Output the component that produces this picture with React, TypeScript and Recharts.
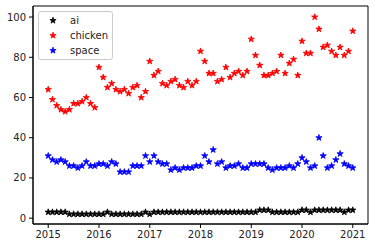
import React from "react";
import { ScatterChart, Scatter, XAxis, YAxis, Legend, ReferenceArea } from "recharts";

// monthly values, Jan 2015 .. Jan 2021
const startYear = 2015;

const ai = [
  3, 3, 3, 3, 3, 2, 2, 2, 2, 2, 2, 2,
  2, 2, 3, 2, 2, 2, 2, 2, 2, 2, 2, 3,
  2, 3, 3, 3, 3, 3, 3, 3, 3, 3, 3, 3,
  3, 3, 3, 3, 3, 3, 3, 3, 3, 3, 3, 3,
  3, 3, 4, 4, 4, 3, 3, 3, 3, 3, 3, 3,
  4, 4, 3, 4, 4, 4, 4, 4, 4, 4, 3, 4,
  4,
];

const chicken = [
  64, 59, 56, 54, 53, 54, 57, 57, 58, 60, 57, 55,
  75, 70, 65, 67, 64, 63, 64, 62, 65, 66, 60, 63,
  78, 71, 73, 67, 66, 68, 69, 66, 65, 68, 66, 68,
  83, 78, 72, 72, 68, 69, 75, 70, 72, 73, 71, 73,
  89, 81, 76, 71, 71, 72, 73, 81, 72, 77, 79, 71,
  88, 82, 82, 100, 94, 85, 86, 83, 81, 85, 81, 83,
  93,
];

const space = [
  31, 29, 28, 29, 28, 26, 26, 25, 26, 28, 26, 26,
  27, 27, 26, 28, 27, 23, 23, 23, 26, 26, 26, 31,
  28, 31, 28, 27, 27, 24, 25, 24, 25, 25, 25, 26,
  26, 31, 28, 34, 27, 28, 25, 26, 26, 27, 25, 25,
  27, 27, 27, 27, 25, 24, 25, 25, 25, 26, 25, 27,
  30, 28, 25, 26, 40, 31, 25, 26, 29, 32, 27, 26,
  25,
];

const yearTicks = [2015, 2016, 2017, 2018, 2019, 2020, 2021];
const valueTicks = [0, 20, 40, 60, 80, 100];

const series = [
  { name: "ai", color: "#000000", values: ai },
  { name: "chicken", color: "#ff0000", values: chicken },
  { name: "space", color: "#0000ff", values: space },
];

const toPoints = (values: number[]) =>
  values.map((v, i) => ({ x: startYear + i / 12, y: v }));

const xDomain = [2014.7, 2021.3];
const yDomain = [-2.9, 105.5];

const font = "'DejaVu Sans', sans-serif";
const tickStyle = { fontSize: 10, fill: "#222", fontFamily: font };

function starPath(cx: number, cy: number, r: number) {
  let d = "";
  for (let k = 0; k < 10; k++) {
    const a = ((-90 + k * 36) * Math.PI) / 180;
    const rr = k % 2 === 0 ? r : r * 0.382;
    d += (k === 0 ? "M" : "L") + (cx + rr * Math.cos(a)).toFixed(2) + "," + (cy + rr * Math.sin(a)).toFixed(2);
  }
  return d + "Z";
}

function StarMark(props: any) {
  const { cx, cy, fill } = props;
  if (cx == null || cy == null) return null;
  return <path d={starPath(cx, cy, 3.3)} fill={fill} stroke={fill} strokeWidth={0.8} />;
}

function LegendBox() {
  return (
    <div
      style={{
        position: "relative",
        width: 75,
        height: 49,
        boxSizing: "border-box",
        border: "1px solid #cccccc",
        borderRadius: 3,
        background: "rgba(255,255,255,0.8)",
        fontFamily: font,
        fontSize: 10,
        color: "#222",
        textAlign: "left",
      }}
    >
      {series.map((s, i) => (
        <div key={s.name} style={{ position: "absolute", left: 0, top: 1 + i * 15, height: 15, width: 73 }}>
          <svg width={12} height={15} style={{ position: "absolute", left: 8, top: 0 }}>
            <path d={starPath(6, 7.5, 3.3)} fill={s.color} stroke={s.color} strokeWidth={0.8} />
          </svg>
          <span style={{ position: "absolute", left: 31, top: 1, lineHeight: "13px" }}>{s.name}</span>
        </div>
      ))}
    </div>
  );
}

export default function App() {
  return (
    <div style={{ position: "absolute", left: 0, top: 0, width: 375, height: 248, background: "#fff" }}>
      <ScatterChart width={375} height={248} margin={{ top: 6, right: 7, bottom: 0, left: 0 }}>
        <XAxis
          type="number"
          dataKey="x"
          domain={xDomain}
          ticks={yearTicks}
          interval={0}
          allowDataOverflow
          height={24}
          tickSize={4}
          tickMargin={3}
          tick={tickStyle}
          stroke="#000"
          tickLine={{ stroke: "#000" }}
          axisLine={{ stroke: "#000" }}
        />
        <YAxis
          type="number"
          dataKey="y"
          domain={yDomain}
          ticks={valueTicks}
          interval={0}
          allowDataOverflow
          width={33}
          tickSize={4}
          tickMargin={3}
          tick={tickStyle}
          stroke="#000"
          tickLine={{ stroke: "#000" }}
          axisLine={{ stroke: "#000" }}
        />
        <ReferenceArea
          x1={xDomain[0]}
          x2={xDomain[1]}
          y1={yDomain[0]}
          y2={yDomain[1]}
          fill="none"
          fillOpacity={0}
          stroke="#000"
          strokeWidth={1}
        />
        <Legend
          layout="horizontal"
          verticalAlign="middle"
          align="center"
          content={() => <LegendBox />}
          wrapperStyle={{ left: 38, top: 11, width: 75, height: 49 }}
        />
        {series.map((s) => (
          <Scatter
            key={s.name}
            name={s.name}
            data={toPoints(s.values)}
            fill={s.color}
            shape={StarMark}
            isAnimationActive={false}
          />
        ))}
      </ScatterChart>
    </div>
  );
}
